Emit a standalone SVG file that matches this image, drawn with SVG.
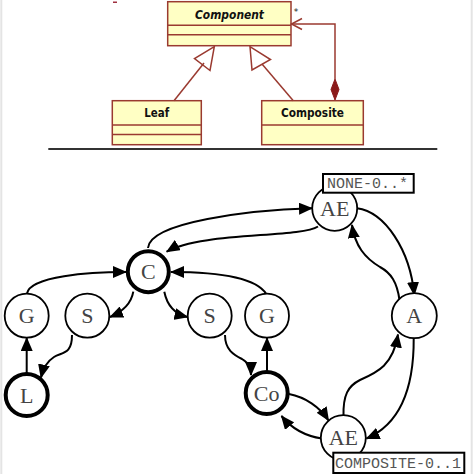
<svg xmlns="http://www.w3.org/2000/svg" width="474" height="474" viewBox="0 0 474 474">
<style>
.uml{fill:#ffffc4;stroke:#9a3a30;stroke-width:1.5}
.umlline{stroke:#9a3a30;stroke-width:1.5;fill:none}
.umlt{font-family:"DejaVu Sans",sans-serif;font-weight:bold;font-size:12px;fill:#111;text-anchor:middle}
.n{fill:#fff;stroke:#000;stroke-width:1.8}
.nb{fill:#fff;stroke:#000;stroke-width:4}
.nt{font-family:"Liberation Serif",serif;font-size:22px;fill:#444;text-anchor:middle}
.e{fill:none;stroke:#000;stroke-width:2;marker-end:url(#ah)}
.lbl{fill:#fff;stroke:#000;stroke-width:2}
.lt{font-family:"Liberation Mono",monospace;font-size:15px;fill:#555}
</style>
<defs>
<marker id="ah" markerUnits="userSpaceOnUse" markerWidth="14" markerHeight="12" refX="13" refY="6" orient="auto">
<path d="M0,0 L14,6 L0,12 Z" fill="#000"/>
</marker>
</defs>
<rect x="0" y="0" width="474" height="474" fill="#fff"/>
<rect x="0.3" y="0" width="2" height="474" fill="#e4e4e4"/>
<rect x="470.7" y="0" width="2" height="474" fill="#e4e4e4"/>
<rect x="113" y="1.5" width="4" height="1.5" fill="#a03040"/>

<g id="uml">
<g id="component">
<rect class="uml" x="167.7" y="1.7" width="123.3" height="44"/>
<line class="umlline" x1="167.7" y1="25.3" x2="291" y2="25.3"/>
<line class="umlline" x1="167.7" y1="34.7" x2="291" y2="34.7"/>
<text class="umlt" x="229.5" y="18.5" font-style="italic" textLength="69" lengthAdjust="spacingAndGlyphs">Component</text>
</g>
<g id="leaf">
<rect class="uml" x="112.3" y="100.7" width="89" height="44"/>
<line class="umlline" x1="112.3" y1="125" x2="201.3" y2="125"/>
<line class="umlline" x1="112.3" y1="134.5" x2="201.3" y2="134.5"/>
<text class="umlt" x="156.8" y="117" textLength="25" lengthAdjust="spacingAndGlyphs">Leaf</text>
</g>
<g id="composite">
<rect class="uml" x="261.7" y="100.7" width="101.6" height="44"/>
<line class="umlline" x1="261.7" y1="125" x2="363.3" y2="125"/>
<text class="umlt" x="312.5" y="117" textLength="63" lengthAdjust="spacingAndGlyphs">Composite</text>
</g>
<g id="uml-connectors">
<line class="umlline" x1="174" y1="100.7" x2="204" y2="63"/>
<path class="umlline" d="M214.3,46.7 L194.5,58.5 L210,70.5 Z" fill="#fff"/>
<line class="umlline" x1="293.3" y1="100.7" x2="262" y2="64"/>
<path class="umlline" d="M250,46.7 L252,70 L270.5,59.5 Z" fill="#fff"/>
<path class="umlline" d="M335,79 L335,24 L291,24"/>
<path class="umlline" d="M302,18.5 L291.5,24 L302,29.5"/>
<path d="M335,79 L339,89.5 L335,100 L331,89.5 Z" fill="#8b1a1a" stroke="#8b1a1a" stroke-width="1"/>
<text x="296" y="15" font-family="DejaVu Sans,sans-serif" font-size="9" fill="#222" text-anchor="middle">*</text>
</g>
</g>

<line x1="48.3" y1="149" x2="437.3" y2="149" stroke="#333" stroke-width="2"/>

<g id="connectors">
<path class="e" d="M148,248 C150,222 250,210 312,208.3"/>
<path class="e" d="M318,226.5 C300,238 200,232 166.7,251.7"/>
<path class="e" d="M27,293.5 C30,276 90,272 126,272"/>
<path class="e" d="M266.3,294 C255,276 210,272 171,272"/>
<path class="e" d="M133.3,291.7 C131,305 122,312 110,317"/>
<path class="e" d="M164.3,291.7 C167,305 175,314 187.5,317"/>
<path class="e" d="M72,335 C72,355 62,352 54,357 C46,362 43,369 41,377.5"/>
<path class="e" d="M26.7,373 L26.7,338"/>
<path class="e" d="M225,335 C225,350 234,355 242,359 C250,364 251,368 251,375"/>
<path class="e" d="M267,371 L267,338"/>
<path class="e" d="M289,394 C305,397 320,407 328.5,420.5"/>
<path class="e" d="M322,438.5 C305,436 292,429 281.5,416"/>
<path class="e" d="M343.5,416 C343,395 348,386 360,380 C378,372 393,365 398,334.5"/>
<path class="e" d="M413.7,338 C414,380 405,422 366.5,438.5"/>
<path class="e" d="M357,208.3 C385,212 410,250 414.3,295"/>
<path class="e" d="M399.5,300 C397,282 391,273 380,267 C365,258 355,246 352,225"/>
</g>

<g id="n-AE1"><circle class="n" cx="334.7" cy="208.3" r="22.5"/><text class="nt" x="334.7" y="216">AE</text></g>
<g id="n-C"><circle class="nb" cx="148.3" cy="271.7" r="20.5"/><text class="nt" x="148.3" y="279.4">C</text></g>
<g id="n-G1"><circle class="n" cx="26.7" cy="315.7" r="22"/><text class="nt" x="26.7" y="323.4">G</text></g>
<g id="n-S1"><circle class="n" cx="87.3" cy="315.7" r="22"/><text class="nt" x="87.3" y="323.4">S</text></g>
<g id="n-S2"><circle class="n" cx="209.7" cy="315.7" r="22"/><text class="nt" x="209.7" y="323.4">S</text></g>
<g id="n-G2"><circle class="n" cx="267" cy="315.7" r="22"/><text class="nt" x="267" y="323.4">G</text></g>
<g id="n-A"><circle class="n" cx="414.3" cy="315.7" r="22.5"/><text class="nt" x="414.3" y="323.4">A</text></g>
<g id="n-L"><circle class="nb" cx="26.7" cy="395" r="21"/><text class="nt" x="26.7" y="402.7">L</text></g>
<g id="n-Co"><circle class="nb" cx="266.7" cy="393" r="21"/><text class="nt" x="266.7" y="400.7">Co</text></g>
<g id="n-AE2"><circle class="n" cx="343.3" cy="437.7" r="22.5"/><text class="nt" x="343.3" y="445.4">AE</text></g>

<g id="label-none"><rect class="lbl" x="323" y="174" width="90.7" height="18.7"/><text class="lt" x="327" y="188">NONE-0..*</text></g>
<g id="label-composite"><rect class="lbl" x="333.3" y="452.7" width="131" height="20.3"/><text class="lt" x="335" y="467.5">COMPOSITE-0..1</text></g>
</svg>
